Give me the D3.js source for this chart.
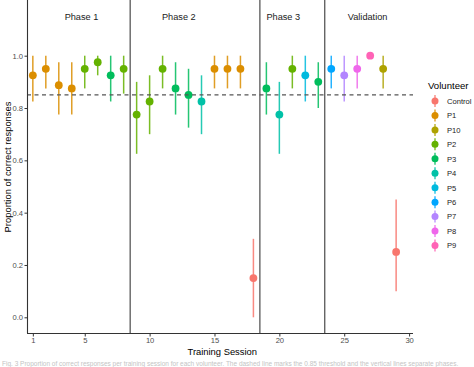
<!DOCTYPE html>
<html>
<head>
<meta charset="utf-8">
<script src="https://cdn.jsdelivr.net/npm/d3@7"></script>
<style>
  body { margin: 0; background: #fff; }
  svg { display: block; font-family: "Liberation Sans", Arial, sans-serif; }
</style>
</head>
<body>
<svg id="chart" width="474" height="367"></svg>
<script>
// Data
var sessions  = [1, 2, 3, 4, 5, 6, 7, 8, 9, 10, 11, 12, 13, 14, 15, 16, 17, 18, 19, 20, 21, 22, 23, 24, 25, 26, 27, 28, 29];
var volunteer = ["P1", "P1", "P1", "P1", "P2", "P2", "P3", "P2", "P2", "P2", "P2", "P3", "P3", "P4", "P1", "P1", "P1",
                 "Control", "P3", "P4", "P2", "P5", "P3", "P6", "P7", "P8", "P9", "P10", "Control"];
var proportion = [0.925, 0.95, 0.8875, 0.875, 0.95, 0.975, 0.925, 0.95, 0.775, 0.825, 0.95, 0.875, 0.85, 0.825, 0.95, 0.95, 0.95,
                  0.15, 0.875, 0.775, 0.95, 0.925, 0.90, 0.95, 0.925, 0.95, 1.0, 0.95, 0.25];
var lower = [0.825, 0.875, 0.775, 0.775, 0.875, 0.925, 0.825, 0.855, 0.625, 0.70, 0.875, 0.775, 0.725, 0.70, 0.875, 0.875, 0.875,
             0.0, 0.775, 0.625, 0.875, 0.825, 0.80, 0.875, 0.825, 0.875, 1.0, 0.875, 0.10];
var upper = [1.0, 1.0, 0.975, 0.975, 1.0, 1.0, 1.0, 1.0, 0.90, 0.925, 1.0, 0.975, 0.95, 0.925, 1.0, 1.0, 1.0,
             0.30, 0.975, 0.90, 1.0, 1.0, 0.975, 1.0, 1.0, 1.0, 1.0, 1.0, 0.45];

var volunteers = ["Control", "P1", "P10", "P2", "P3", "P4", "P5", "P6", "P7", "P8", "P9"];
var volunteerColors = ["#F8766D", "#DB8E00", "#AEA200", "#64B200", "#00BD5C", "#00C1A7", "#00BADE", "#00A6FF", "#B385FF", "#EF67EB", "#FF63B6"];

var phaseBreaks = [8.5, 18.5, 23.5];
var phaseNames = ["Phase 1", "Phase 2", "Phase 3", "Validation"];
var phaseLabelAt = [4.75, 12.25, 20.3, 26.8];
var threshold = 0.85;

var xTicks = [1, 5, 10, 15, 20, 25, 30];
var yTicks = [0, 0.2, 0.4, 0.6, 0.8, 1.0];

var rows = sessions.map(function(s, i) {
    return { session: s, who: volunteer[i], p: proportion[i], lo: lower[i], hi: upper[i] };
});

var margin = { left: 27, right: 61, top: 0, bottom: 34 };
var svgW = 474, svgH = 367;

var svg = d3.select("#chart");

var x = d3.scaleLinear().domain([0.55, 30.3]).range([margin.left, svgW - margin.right]);
var y = d3.scaleLinear().domain([0, 1]).range([317.3, 55.7]);
var color = d3.scaleOrdinal().domain(volunteers).range(volunteerColors);
var panelBottom = svgH - margin.bottom + 0.5;

// phase separators
svg.append("g").selectAll("line")
    .data(phaseBreaks).enter().append("line")
    .attr("x1", function(d) { return x(d); })
    .attr("x2", function(d) { return x(d); })
    .attr("y1", margin.top).attr("y2", panelBottom)
    .attr("stroke", "#3a3a3a").attr("stroke-width", 1.1);

// phase labels
svg.append("g").selectAll("text")
    .data(phaseNames).enter().append("text")
    .attr("x", function(d, i) { return x(phaseLabelAt[i]); })
    .attr("y", 20)
    .attr("text-anchor", "middle")
    .attr("font-size", 9.2)
    .attr("fill", "#1a1a1a")
    .text(function(d) { return d; });

// error bars
svg.append("g").selectAll("line")
    .data(rows).enter().append("line")
    .attr("x1", function(d) { return x(d.session); })
    .attr("x2", function(d) { return x(d.session); })
    .attr("y1", function(d) { return y(d.lo); })
    .attr("y2", function(d) { return y(d.hi); })
    .attr("stroke", function(d) { return color(d.who); })
    .attr("stroke-width", 1.5)
    .attr("opacity", 0.85);

// points
svg.append("g").selectAll("circle")
    .data(rows).enter().append("circle")
    .attr("cx", function(d) { return x(d.session); })
    .attr("cy", function(d) { return y(d.p); })
    .attr("r", 3.9)
    .attr("fill", function(d) { return color(d.who); });

// threshold line
svg.append("line")
    .attr("x1", margin.left).attr("x2", svgW - margin.right)
    .attr("y1", y(threshold)).attr("y2", y(threshold))
    .attr("stroke", "#555").attr("stroke-width", 1.2)
    .attr("stroke-dasharray", "4,3.5");

// axes
var xAxis = d3.axisBottom(x).tickValues(xTicks).tickSize(3).tickSizeOuter(0).tickFormat(d3.format("d"));
var yAxis = d3.axisLeft(y).tickValues(yTicks).tickSize(3).tickSizeOuter(0).tickFormat(d3.format(".1f"));

var gx = svg.append("g")
    .attr("transform", "translate(0," + panelBottom + ")")
    .call(xAxis);
gx.select(".domain").attr("d", "M" + margin.left + ",0H" + (svgW - margin.right));

var gy = svg.append("g")
    .attr("transform", "translate(" + (margin.left + 0.5) + ",0)")
    .call(yAxis);
gy.select(".domain").attr("d", "M0," + margin.top + "V" + (panelBottom - 0.5));

[gx, gy].forEach(function(g) {
    g.select(".domain").attr("stroke", "#333").attr("stroke-width", 1.1);
    g.selectAll(".tick line").attr("stroke", "#333");
    g.selectAll(".tick text")
        .attr("fill", "#4d4d4d")
        .attr("font-size", 7.6)
        .attr("font-family", "Liberation Sans, Arial, sans-serif");
});
gy.selectAll(".tick text").attr("x", -4.5);
gx.selectAll(".tick text").attr("y", 3.8);

// axis titles
svg.append("text")
    .attr("x", x(15.6)).attr("y", 354.5)
    .attr("text-anchor", "middle")
    .attr("font-size", 9.4)
    .text("Training Session");

svg.append("text")
    .attr("transform", "translate(11," + 167 + ") rotate(-90)")
    .attr("text-anchor", "middle")
    .attr("font-size", 9.4)
    .text("Proportion of correct responses");

// legend
var legend = svg.append("g").attr("transform", "translate(428,0)");
legend.append("text")
    .attr("x", 0).attr("y", 89)
    .attr("font-size", 9.6)
    .text("Volunteer");

var items = legend.selectAll(".key")
    .data(volunteers).enter().append("g")
    .attr("class", "key")
    .attr("transform", function(d, i) { return "translate(0," + (101 + i * 14.45) + ")"; });

items.append("line")
    .attr("x1", 7).attr("x2", 7).attr("y1", -6).attr("y2", 6)
    .attr("stroke", function(d) { return color(d); })
    .attr("stroke-width", 1.4).attr("opacity", 0.85);
items.append("circle")
    .attr("cx", 7).attr("cy", 0).attr("r", 3.5)
    .attr("fill", function(d) { return color(d); });
items.append("text")
    .attr("x", 19).attr("y", 2.8)
    .attr("font-size", 7.6)
    .attr("fill", "#1a1a1a")
    .text(function(d) { return d; });

// faint caption at the bottom edge
svg.append("text")
    .attr("x", 2).attr("y", 366)
    .attr("font-size", 6.5)
    .attr("fill", "#c4c4c4")
    .text("Fig. 3  Proportion of correct responses per training session for each volunteer. The dashed line marks the 0.85 threshold and the vertical lines separate phases.");
</script>
</body>
</html>
